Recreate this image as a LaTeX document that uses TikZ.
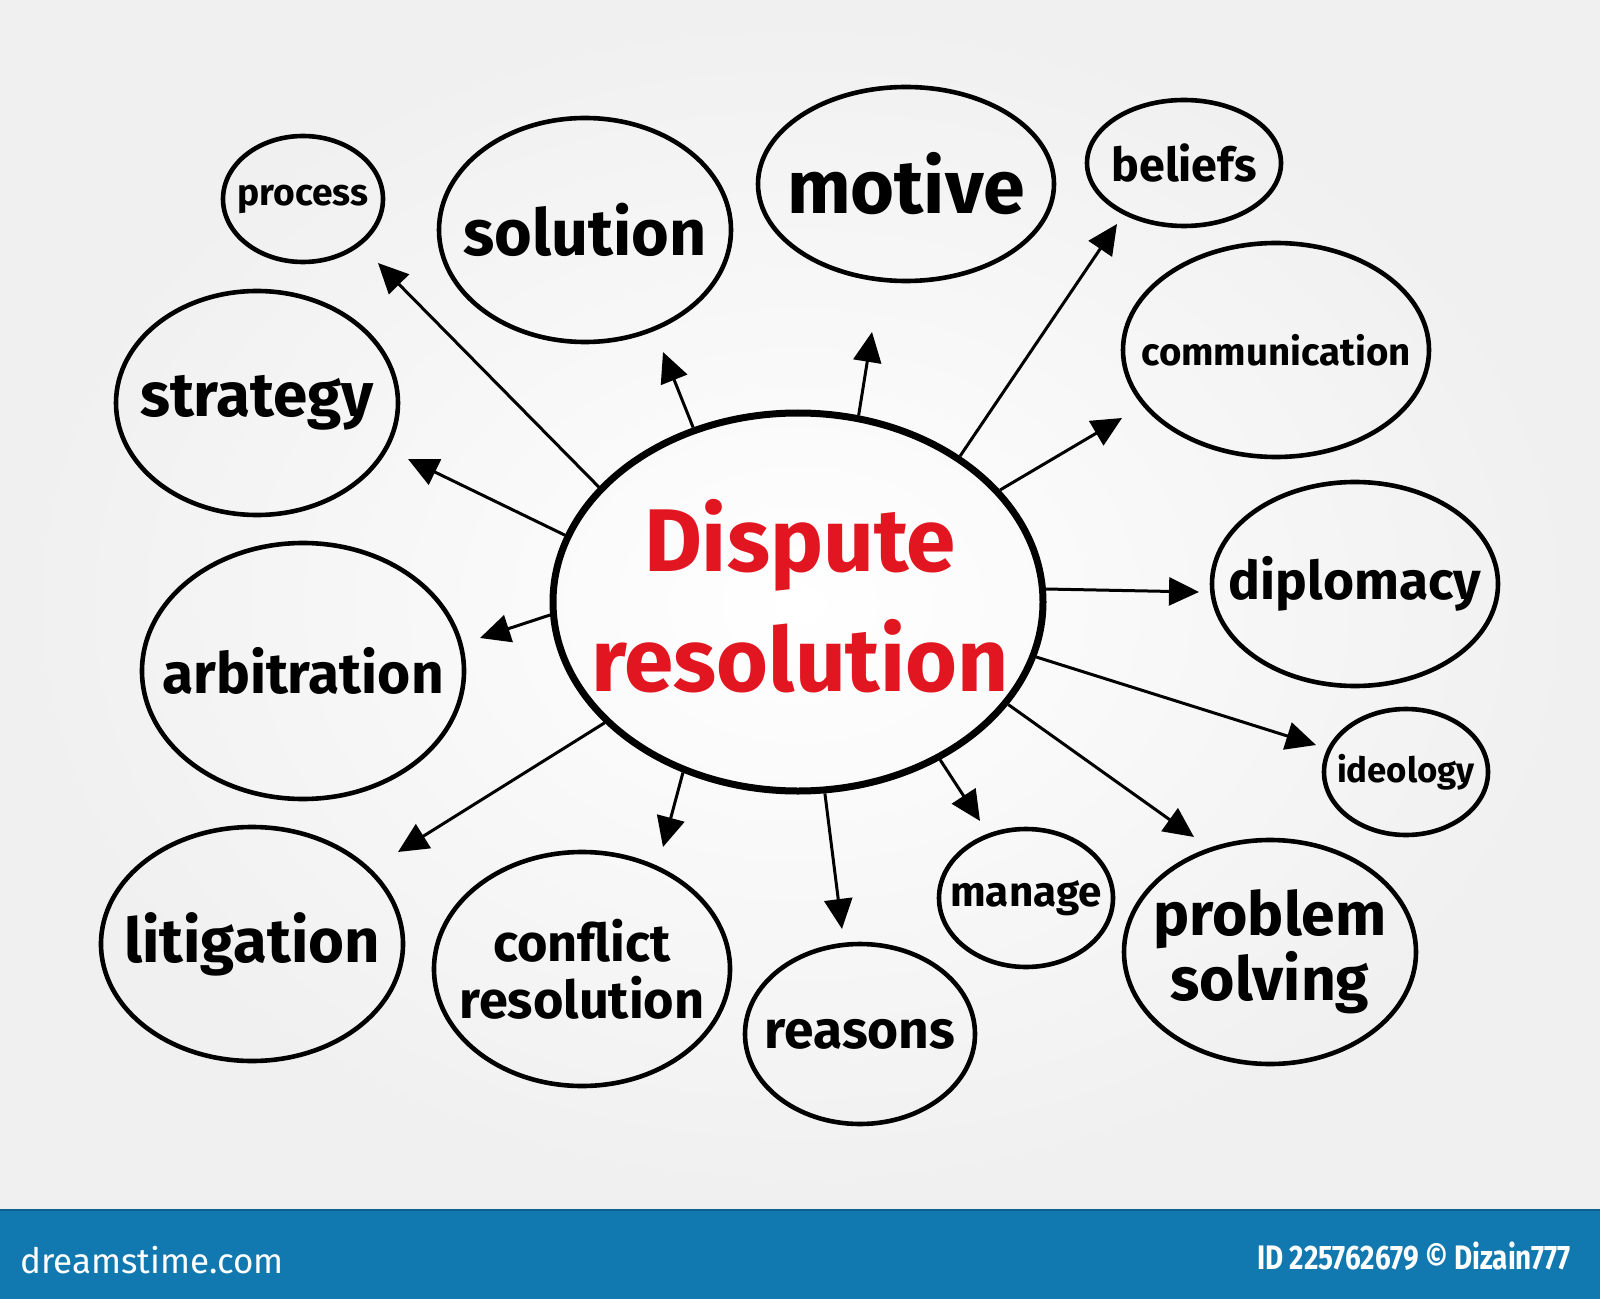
\documentclass[tikz,border=0pt]{standalone}
\usepackage{fontspec}
\setmainfont{Fira Sans}
\newfontfamily\idfont{Fira Sans}[FakeStretch=0.82]
\usetikzlibrary{shapes.geometric,arrows.meta}
\definecolor{drred}{RGB}{226,22,32}
\definecolor{barblue}{RGB}{18,120,176}
\tikzset{
  bubble/.style 2 args={ellipse, draw, line width=2.3pt, inner sep=0pt,
    minimum width=#1*0.5pt, minimum height=#2*0.5pt},
  hub/.style={ellipse, draw, line width=3.5pt, inner sep=0pt,
    minimum width=490*0.5pt, minimum height=378*0.5pt},
  word/.style 2 args={font=\bfseries\fontsize{#1}{#2}\selectfont, align=center, inner sep=0pt},
  arr/.style={line width=1.5pt, -{Triangle[length=15pt,width=14pt]}},
  barword/.style={text=white, inner sep=0pt}
}

\begin{document}
\begin{tikzpicture}[x=0.5pt, y=-0.5pt]
  \useasboundingbox (0,0) rectangle (1600,1299);
  \shade[inner color=white, outer color=black!6] (0,0) rectangle (1600,1209);
  \fill[barblue] (0,1209) rectangle (1600,1299);
  \draw[barblue!80!black, line width=1pt] (0,1210) -- (1600,1210);
  \node[barword, anchor=west, font=\fontsize{17.5}{17.5}\selectfont] (site) at (20,1260) {dreamstime.com};
  \node[barword, anchor=east, font=\idfont\bfseries\fontsize{17}{17}\selectfont] (stockid) at (1571,1256) {ID 225762679 © Dizain777};

  \node[hub] (dr) at (798,602) {};
  \node[word={44.5}{60}, text=drred] (drtext) at (800,596) {Dispute\\resolution};

  \node[bubble={160}{126}, label={[word={18.6}{20}]center:process}] (process) at (303,199) {};
  \node[bubble={292}{224}, label={[word={32.3}{34}]center:solution}] (solution) at (585,230) {};
  \node[bubble={296}{194}, label={[word={37.7}{40}]center:motive}] (motive) at (906,184) {};
  \node[bubble={194}{126}, label={[word={23.3}{25}]center:beliefs}] (beliefs) at (1184,163) {};
  \node[bubble={306}{214}, label={[word={19.2}{21}]center:communication}] (communication) at (1276,350) {};
  \node[bubble={286}{204}, label={[word={26.6}{28}]center:diplomacy}] (diplomacy) at (1355,584) {};
  \node[bubble={164}{126}, label={[word={17.4}{19}]center:ideology}] (ideology) at (1406,772) {};
  \node[bubble={292}{224}, label={[word={30.3}{31}]center:{problem\\solving}}] (problem) at (1270,952) {};
  \node[bubble={174}{138}, label={[word={21.1}{23}]center:manage}] (manage) at (1026,898) {};
  \node[bubble={230}{180}, label={[word={26.6}{28}]center:reasons}] (reasons) at (860,1034) {};
  \node[bubble={296}{234}, label={[word={26.1}{28.5}]center:{conflict\\resolution}}] (conflict) at (582,969) {};
  \node[bubble={302}{234}, label={[word={30.8}{32}]center:litigation}] (litigation) at (252,944) {};
  \node[bubble={322}{256}, label={[word={28.4}{30}]center:arbitration}] (arbitration) at (303,671) {};
  \node[bubble={282}{224}, label={[word={31}{33}]center:strategy}] (strategy) at (257,403) {};

  \coordinate (toprocess) at (378,263);
  \coordinate (tosolution) at (663,352);
  \coordinate (tomotive) at (872,332);
  \coordinate (tobeliefs) at (1117,224);
  \coordinate (tocommunication) at (1122,418);
  \coordinate (todiplomacy) at (1199,592);
  \coordinate (toideology) at (1316,745);
  \coordinate (toproblem) at (1194,837);
  \coordinate (tomanage) at (980,821);
  \coordinate (toreasons) at (842,929);
  \coordinate (toconflict) at (663,847);
  \coordinate (tolitigation) at (398,852);
  \coordinate (toarbitration) at (480,638);
  \coordinate (tostrategy) at (408,459);

  \draw[arr] (dr.150) -- (toprocess);
  \draw[arr] (dr.121) -- (tosolution);
  \draw[arr] (dr.72) -- (tomotive);
  \draw[arr] (dr.42) -- (tobeliefs);
  \draw[arr] (dr.29) -- (tocommunication);
  \draw[arr] (dr.3) -- (todiplomacy);
  \draw[arr] (dr.-13) -- (toideology);
  \draw[arr] (dr.-26) -- (toproblem);
  \draw[arr] (dr.-48) -- (tomanage);
  \draw[arr] (dr.-82) -- (toreasons);
  \draw[arr] (dr.236) -- (toconflict);
  \draw[arr] (dr.212) -- (tolitigation);
  \draw[arr] (dr.183) -- (toarbitration);
  \draw[arr] (dr.164) -- (tostrategy);
\end{tikzpicture}
\end{document}
